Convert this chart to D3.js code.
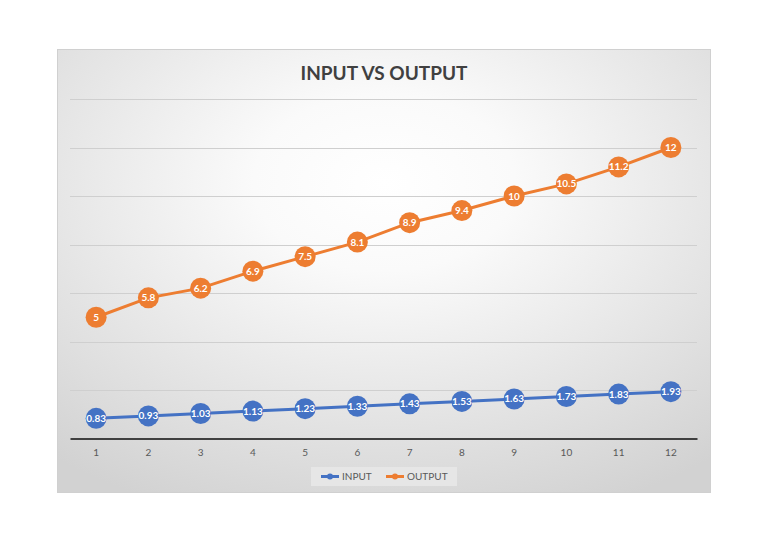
<!DOCTYPE html>
<html><head><meta charset="utf-8">
<script src="https://cdn.jsdelivr.net/npm/d3@7"></script>
<style>body{margin:0;background:#fff;}svg{display:block;}</style>
</head><body>
<svg id="c" width="768" height="543"></svg>
<script>
const categories = [1,2,3,4,5,6,7,8,9,10,11,12];
const inputValues = [0.83,0.93,1.03,1.13,1.23,1.33,1.43,1.53,1.63,1.73,1.83,1.93];
const outputValues = [5,5.8,6.2,6.9,7.5,8.1,8.9,9.4,10,10.5,11.2,12];
const yTicks = [0,2,4,6,8,10,12,14];
const seriesNames = ["INPUT","OUTPUT"];
const colors = ["#4472C4","#ED7D31"];

const svg = d3.select("#c");
const defs = svg.append("defs");
const rg = defs.append("radialGradient").attr("id","bg").attr("cx","50%").attr("cy","30%").attr("r","80%");
rg.append("stop").attr("offset","0%").attr("stop-color","#ffffff");
rg.append("stop").attr("offset","25%").attr("stop-color","#fafafa");
rg.append("stop").attr("offset","100%").attr("stop-color","#d2d2d2");

svg.append("rect").attr("x",57.5).attr("y",49.5).attr("width",653).attr("height",443)
  .attr("fill","url(#bg)").attr("stroke","#d0d0d0");

svg.append("text").attr("x",384).attr("y",80).attr("text-anchor","middle")
  .attr("font-family","Lato, 'Open Sans', sans-serif").attr("font-weight","bold")
  .attr("font-size",19).attr("fill","#404040").text("INPUT VS OUTPUT");

const x = d3.scaleBand().domain(categories).range([70,697]);
const y = d3.scaleLinear().domain([0,14]).range([438.5,99]);

const g = svg.append("g");
g.selectAll("line.grid").data(yTicks.slice(1)).join("line")
  .attr("x1",70).attr("x2",697).attr("y1",d=>Math.round(y(d))+0.5).attr("y2",d=>Math.round(y(d))+0.5)
  .attr("stroke","#cfcfcf").attr("stroke-width",1);

const xAxis = g.append("g").attr("transform",`translate(0,${y(0)})`)
  .call(d3.axisBottom(x).tickSize(0).tickPadding(10));
xAxis.select(".domain").attr("stroke","#404040").attr("stroke-width",2);
xAxis.selectAll("text").attr("font-family","Lato, 'Open Sans', sans-serif").attr("font-size",10).attr("fill","#595959");

const cx = d => x(d)+x.bandwidth()/2;
[inputValues, outputValues].forEach((vals,i)=>{
  const pts = categories.map((c,j)=>[cx(c), y(vals[j])]);
  g.append("path").attr("d", d3.line()(pts)).attr("fill","none").attr("stroke",colors[i]).attr("stroke-width",3);
  const s = g.append("g");
  s.selectAll("circle").data(pts).join("circle").attr("cx",d=>d[0]).attr("cy",d=>d[1]).attr("r",10.5)
    .attr("fill",colors[i]);
  s.selectAll("text").data(vals).join("text").attr("x",(d,j)=>pts[j][0]).attr("y",(d,j)=>pts[j][1]+3.5)
    .attr("text-anchor","middle").attr("font-family","Lato, 'Open Sans', sans-serif").attr("font-weight","bold")
    .attr("font-size",10).attr("fill","#ffffff").text(d=>d);
});

const lg = svg.append("g");
lg.append("rect").attr("x",311).attr("y",467).attr("width",146).attr("height",19).attr("fill","#e6e6e6");
const lx = [321,386];
seriesNames.forEach((n,i)=>{
  lg.append("line").attr("x1",lx[i]).attr("x2",lx[i]+18).attr("y1",476.5).attr("y2",476.5)
    .attr("stroke",colors[i]).attr("stroke-width",3);
  lg.append("circle").attr("cx",lx[i]+9).attr("cy",476.5).attr("r",3).attr("fill",colors[i]);
  lg.append("text").attr("x",lx[i]+21).attr("y",480).attr("font-family","Lato, 'Open Sans', sans-serif")
    .attr("font-size",10).attr("fill","#595959").text(n);
});
</script>
</body></html>
